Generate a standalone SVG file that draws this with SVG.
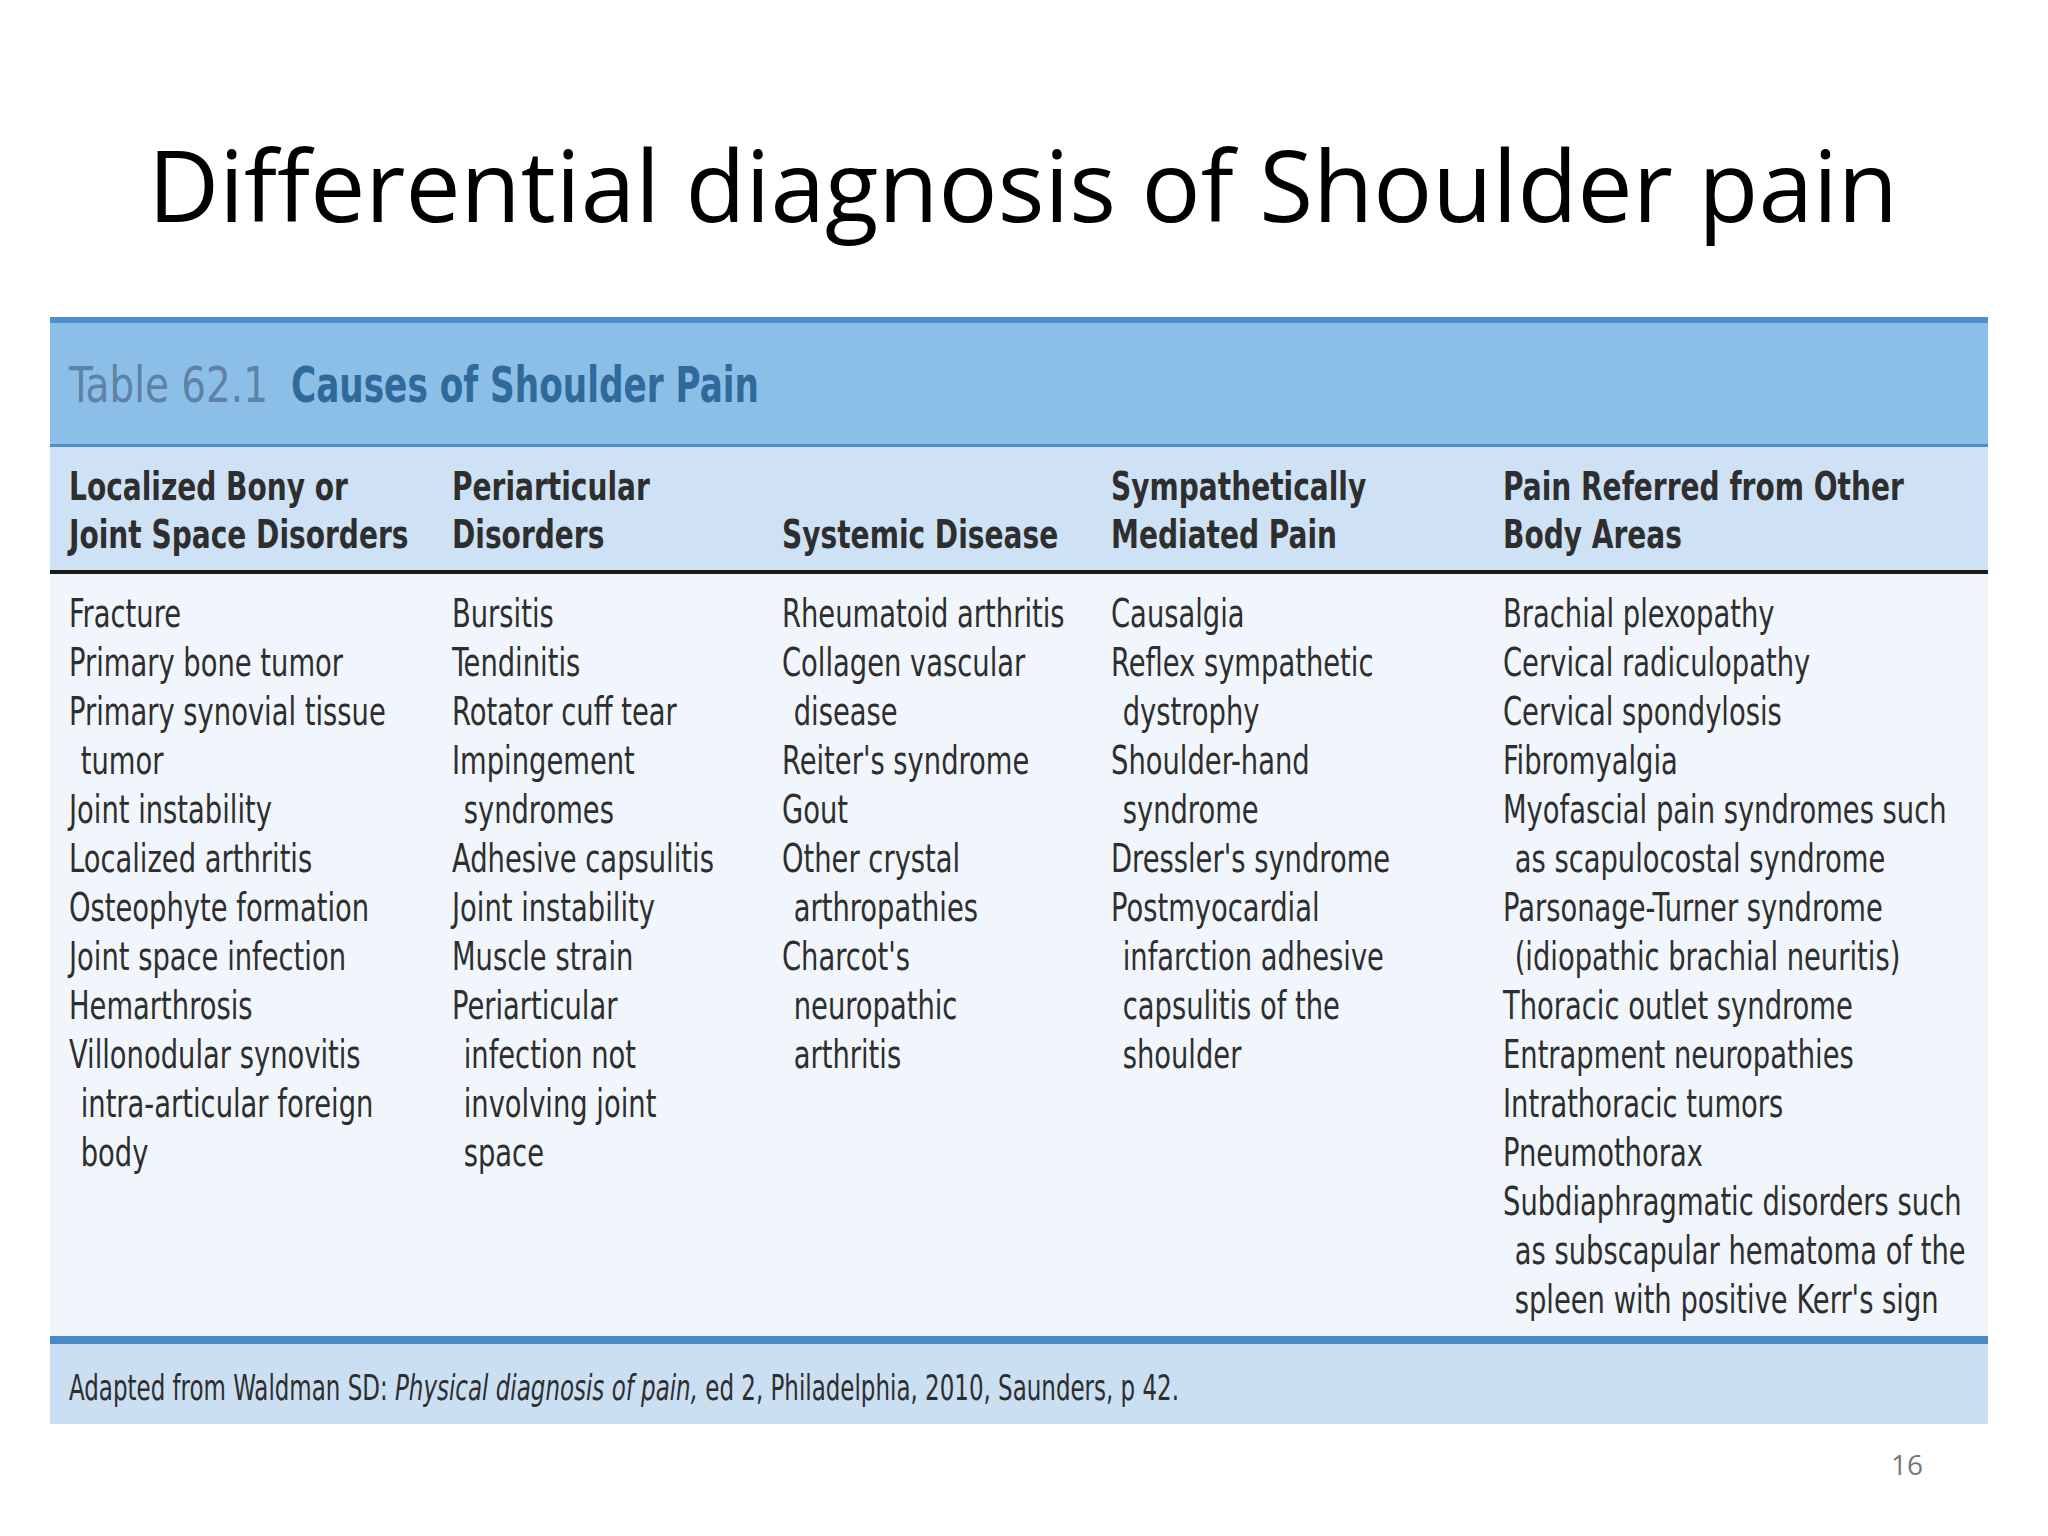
<svg xmlns="http://www.w3.org/2000/svg" width="2048" height="1536" viewBox="0 0 2048 1536">
<style>
.t{font-family:"DejaVu Sans Condensed","Liberation Sans Narrow","DejaVu Sans",sans-serif;fill:#2e2e2e}
.h{font-size:39px;font-weight:bold}
.b{font-size:39px}
</style>
<rect width="2048" height="1536" fill="#fff"/>
<text x="1023" y="222" text-anchor="middle" font-family="'Open Sans','Liberation Sans',sans-serif" font-size="98" fill="#000" textLength="1750" lengthAdjust="spacingAndGlyphs">Differential diagnosis of Shoulder pain</text>
<g id="table">
<rect x="50" y="317" width="1938" height="127" fill="#8cbfe8"/>
<rect x="50" y="317" width="1938" height="6" fill="#4e8fcb"/>
<rect x="50" y="444" width="1938" height="128" fill="#cfe2f5"/>
<rect x="50" y="444" width="1938" height="3" fill="#4e8fcb"/>
<rect x="50" y="572" width="1938" height="767" fill="#f1f6fc"/>
<rect x="50" y="570" width="1938" height="4" fill="#1c1c1c"/>
<rect x="50" y="1336" width="1938" height="8" fill="#4a88c6"/>
<rect x="50" y="1344" width="1938" height="80" fill="#cbdff3"/>
<text x="69" y="402" class="t" font-size="50" style="fill:#5d82a3" textLength="199" lengthAdjust="spacingAndGlyphs">Table 62.1</text>
<text x="291" y="402" class="t" font-size="50" font-weight="bold" style="fill:#2f6a9a" textLength="468" lengthAdjust="spacingAndGlyphs">Causes of Shoulder Pain</text>
</g>
<g id="headers" class="t h">
<g transform="translate(69,0) scale(0.8,1)"><text x="0" y="500">Localized Bony or</text><text x="0" y="548">Joint Space Disorders</text></g>
<g transform="translate(452,0) scale(0.8,1)"><text x="0" y="500">Periarticular</text><text x="0" y="548">Disorders</text></g>
<g transform="translate(782,0) scale(0.8,1)"><text x="0" y="548">Systemic Disease</text></g>
<g transform="translate(1111,0) scale(0.8,1)"><text x="0" y="500">Sympathetically</text><text x="0" y="548">Mediated Pain</text></g>
<g transform="translate(1503,0) scale(0.8,1)"><text x="0" y="500">Pain Referred from Other</text><text x="0" y="548">Body Areas</text></g>
</g>
<g id="col1" class="t b" transform="translate(69,0) scale(0.78,1)">
<text x="0" y="627">Fracture</text>
<text x="0" y="676">Primary bone tumor</text>
<text x="0" y="725">Primary synovial tissue</text>
<text x="15" y="774">tumor</text>
<text x="0" y="823">Joint instability</text>
<text x="0" y="872">Localized arthritis</text>
<text x="0" y="921">Osteophyte formation</text>
<text x="0" y="970">Joint space infection</text>
<text x="0" y="1019">Hemarthrosis</text>
<text x="0" y="1068">Villonodular synovitis</text>
<text x="15" y="1117">intra-articular foreign</text>
<text x="15" y="1166">body</text>
</g>
<g id="col2" class="t b" transform="translate(452,0) scale(0.78,1)">
<text x="0" y="627">Bursitis</text>
<text x="0" y="676">Tendinitis</text>
<text x="0" y="725">Rotator cuff tear</text>
<text x="0" y="774">Impingement</text>
<text x="15" y="823">syndromes</text>
<text x="0" y="872">Adhesive capsulitis</text>
<text x="0" y="921">Joint instability</text>
<text x="0" y="970">Muscle strain</text>
<text x="0" y="1019">Periarticular</text>
<text x="15" y="1068">infection not</text>
<text x="15" y="1117">involving joint</text>
<text x="15" y="1166">space</text>
</g>
<g id="col3" class="t b" transform="translate(782,0) scale(0.78,1)">
<text x="0" y="627">Rheumatoid arthritis</text>
<text x="0" y="676">Collagen vascular</text>
<text x="15" y="725">disease</text>
<text x="0" y="774">Reiter's syndrome</text>
<text x="0" y="823">Gout</text>
<text x="0" y="872">Other crystal</text>
<text x="15" y="921">arthropathies</text>
<text x="0" y="970">Charcot's</text>
<text x="15" y="1019">neuropathic</text>
<text x="15" y="1068">arthritis</text>
</g>
<g id="col4" class="t b" transform="translate(1111,0) scale(0.78,1)">
<text x="0" y="627">Causalgia</text>
<text x="0" y="676">Reflex sympathetic</text>
<text x="15" y="725">dystrophy</text>
<text x="0" y="774">Shoulder-hand</text>
<text x="15" y="823">syndrome</text>
<text x="0" y="872">Dressler's syndrome</text>
<text x="0" y="921">Postmyocardial</text>
<text x="15" y="970">infarction adhesive</text>
<text x="15" y="1019">capsulitis of the</text>
<text x="15" y="1068">shoulder</text>
</g>
<g id="col5" class="t b" transform="translate(1503,0) scale(0.78,1)">
<text x="0" y="627">Brachial plexopathy</text>
<text x="0" y="676">Cervical radiculopathy</text>
<text x="0" y="725">Cervical spondylosis</text>
<text x="0" y="774">Fibromyalgia</text>
<text x="0" y="823">Myofascial pain syndromes such</text>
<text x="15" y="872">as scapulocostal syndrome</text>
<text x="0" y="921">Parsonage-Turner syndrome</text>
<text x="15" y="970">(idiopathic brachial neuritis)</text>
<text x="0" y="1019">Thoracic outlet syndrome</text>
<text x="0" y="1068">Entrapment neuropathies</text>
<text x="0" y="1117">Intrathoracic tumors</text>
<text x="0" y="1166">Pneumothorax</text>
<text x="0" y="1215">Subdiaphragmatic disorders such</text>
<text x="15" y="1264">as subscapular hematoma of the</text>
<text x="15" y="1313">spleen with positive Kerr's sign</text>
</g>
<g transform="translate(69,0) scale(0.73,1)">
<text x="0" y="1400" class="t" font-size="35">Adapted from Waldman SD: <tspan font-style="italic">Physical diagnosis of pain,</tspan> ed 2, Philadelphia, 2010, Saunders, p 42.</text>
</g>
<text x="1907" y="1475" text-anchor="middle" font-family="'Open Sans','Liberation Sans',sans-serif" font-size="28" fill="#777">16</text>
</svg>
